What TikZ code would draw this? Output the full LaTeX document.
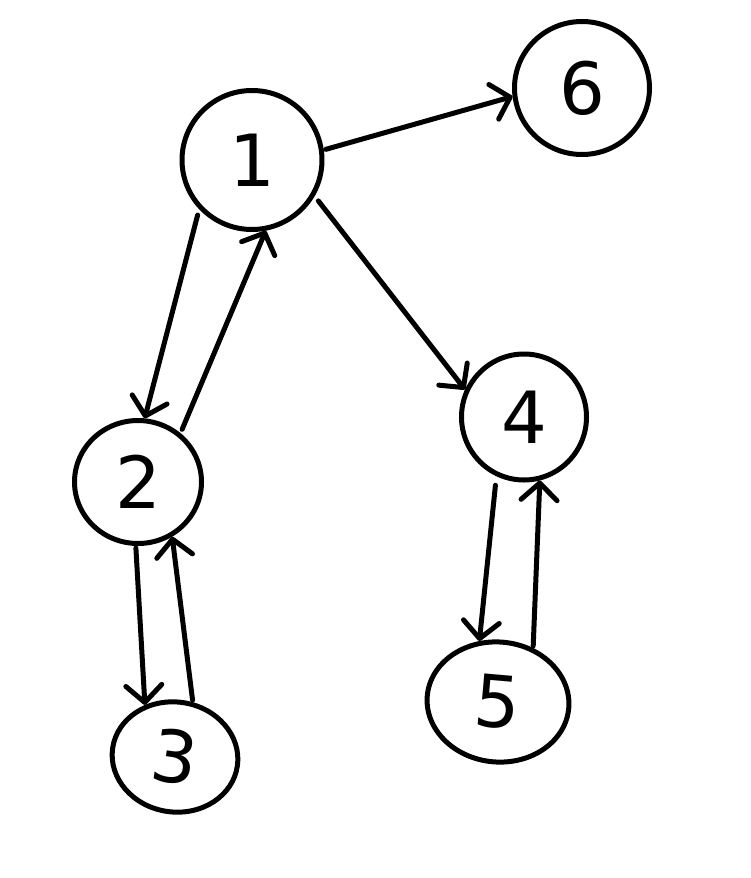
\documentclass[tikz,border=0pt]{standalone}
\usepackage{fontspec}
\setmainfont{DejaVu Sans}
\usetikzlibrary{arrows.meta,shapes.geometric}
\begin{document}
\begin{tikzpicture}[x=1pt,y=-1pt,
  vtx/.style={draw,ellipse,line width=5pt,inner sep=0pt,font=\fontsize{72}{72}\selectfont},
  edge/.style={line width=5pt,line cap=round,-{Straight Barb[length=17pt,width=36pt,line width=5pt,round]}}]
\useasboundingbox (0,0) rectangle (751,878);
\node[vtx,minimum width=140pt,minimum height=139pt] (n1) at (252,160) {1};
\node[vtx,minimum width=135pt,minimum height=133pt] (n6) at (582,88) {6};
\node[vtx,minimum width=127pt,minimum height=123pt] (n2) at (138,482) {2};
\node[vtx,minimum width=126pt,minimum height=110pt,rotate=-8] (n3) at (175,757) {3};
\node[vtx,minimum width=125pt,minimum height=126pt] (n4) at (524,417) {4};
\node[vtx,minimum width=142pt,minimum height=120pt,rotate=-5] (n5) at (498,702) {5};
\draw[edge,shorten <=6pt] (n1.223) -- (n2.84);
\draw[edge,shorten <=4pt] (n2.49) -- (n1.281);
\draw[edge,shorten <=2pt] (n1.8) -- (n6.187);
\draw[edge,shorten <=6pt] (n1.330) -- (n4.155);
\draw[edge,shorten <=9pt] (n4.245) -- (n5.112);
\draw[edge,shorten <=2pt] (n5.62) -- (n4.284);
\draw[edge,shorten <=2pt] (n2.268) -- (n3.128);
\draw[edge,shorten <=2pt] (n3.80) -- (n2.302);
\end{tikzpicture}
\end{document}
